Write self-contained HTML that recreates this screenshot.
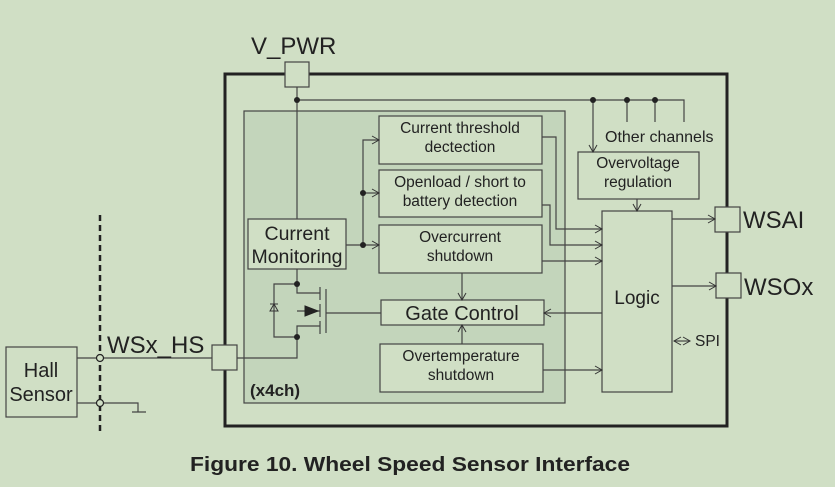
<!DOCTYPE html>
<html><head><style>
html,body{margin:0;padding:0;background:#d0dfc5;}
svg{display:block;font-family:"Liberation Sans",Arial,sans-serif;}
</style></head><body>
<svg width="835" height="487" viewBox="0 0 835 487" xmlns="http://www.w3.org/2000/svg">
<defs>
<marker id="a" markerWidth="10" markerHeight="10" refX="8" refY="5" orient="auto" markerUnits="userSpaceOnUse">
<path d="M1,1 L8,5 L1,9" fill="none" stroke="#333" stroke-width="1"/></marker>
<marker id="as" markerWidth="10" markerHeight="10" refX="2" refY="5" orient="auto" markerUnits="userSpaceOnUse">
<path d="M9,1 L2,5 L9,9" fill="none" stroke="#333" stroke-width="1"/></marker>
</defs>
<rect width="835" height="487" fill="#d0dfc5"/>
<g stroke="#222" fill="none">
<rect x="225" y="74" width="502" height="352" stroke-width="3"/>
</g>
<rect x="244" y="111" width="321" height="292" fill="#c3d5bb" stroke="#444" stroke-width="1.2"/>
<g stroke="#444" stroke-width="1.2" fill="#d0dfc5">
<rect x="285" y="62" width="24" height="25"/>
<rect x="212" y="345" width="25" height="25"/>
<rect x="715" y="207" width="25" height="25"/>
<rect x="716" y="273" width="25" height="25"/>
<rect x="379" y="116" width="163" height="48"/>
<rect x="379" y="170" width="163" height="47"/>
<rect x="379" y="225" width="163" height="48"/>
<rect x="381" y="300" width="163" height="25"/>
<rect x="380" y="344" width="163" height="48"/>
<rect x="248" y="219" width="98" height="50"/>
<rect x="578" y="152" width="121" height="47"/>
<rect x="602" y="211" width="70" height="181"/>
<rect x="6" y="347" width="71" height="70"/>
</g>
<g stroke="#444" stroke-width="1.2" fill="none">
<path d="M297 87V219M297 100H684V122M627 100V122M655 100V122"/>
<path d="M593 100V152" marker-end="url(#a)"/>
<path d="M346 245H379" marker-end="url(#a)"/>
<path d="M363 245V140H379" marker-end="url(#a)"/>
<path d="M363 193H379" marker-end="url(#a)"/>
<path d="M542 137H556V229H602" marker-end="url(#a)"/>
<path d="M542 205H550V245H602" marker-end="url(#a)"/>
<path d="M542 261H602" marker-end="url(#a)"/>
<path d="M543 370H602" marker-end="url(#a)"/>
<path d="M602 313H544" marker-end="url(#a)"/>
<path d="M637 199V211" marker-end="url(#a)"/>
<path d="M462 273V300" marker-end="url(#a)"/>
<path d="M462 344V325" marker-end="url(#a)"/>
<path d="M672 219H715" marker-end="url(#a)"/>
<path d="M672 286H716" marker-end="url(#a)"/>
<path d="M674 341H690" marker-end="url(#a)" marker-start="url(#as)"/>
<path d="M297 269V284M297 284V293H320M297 337V326H320M297 337V358H237"/>
<path d="M320 311H297M297 284H274V337H297"/>
<path d="M381 313H326M326 289V333M320 287V300M320 304V317M320 321V334"/>
<path d="M77 358H212M77 403H138V412M132 412H146"/>
</g>
<path d="M100 215V435" stroke="#222" stroke-width="2.5" stroke-dasharray="6,4"/>
<path d="M305 311L318 311M305 306L318 311L305 316Z" fill="#222" stroke="#222"/>
<path d="M270 311H278L274 304Z M270 304H278" fill="none" stroke="#333"/>
<g fill="#222">
<circle cx="297" cy="100" r="3"/><circle cx="593" cy="100" r="3"/><circle cx="627" cy="100" r="3"/><circle cx="655" cy="100" r="3"/>
<circle cx="363" cy="245" r="3"/><circle cx="363" cy="193" r="3"/>
<circle cx="297" cy="284" r="3"/><circle cx="297" cy="337" r="3"/>
</g>
<circle cx="100" cy="358" r="3.5" fill="#d0dfc5" stroke="#222" stroke-width="1.2"/>
<circle cx="100" cy="403" r="3.5" fill="#d0dfc5" stroke="#222" stroke-width="1.2"/>
<g fill="#222" text-anchor="middle" font-size="15.5">
<text x="460" y="133">Current threshold</text><text x="460" y="152">dectection</text>
<text x="460" y="187">Openload / short to</text><text x="460" y="206">battery detection</text>
<text x="460" y="242">Overcurrent</text><text x="460" y="261">shutdown</text>
<text x="462" y="320" font-size="20">Gate Control</text>
<text x="461" y="361">Overtemperature</text><text x="461" y="380">shutdown</text>
<text x="297" y="240" font-size="19.5">Current</text><text x="297" y="263" font-size="19.5">Monitoring</text>
<text x="638" y="168">Overvoltage</text><text x="638" y="187">regulation</text>
<text x="637" y="304" font-size="19">Logic</text>
<text x="41" y="377" font-size="20">Hall</text><text x="41" y="401" font-size="20">Sensor</text>
</g>
<g fill="#222">
<text x="605" y="142" font-size="16">Other channels</text>
<text x="695" y="346" font-size="15.5">SPI</text>
<text x="743" y="228" font-size="24">WSAI</text>
<text x="744" y="295" font-size="24">WSOx</text>
<text x="107" y="353" font-size="24">WSx_HS</text>
<text x="251" y="54" font-size="24">V_PWR</text>
<text x="250" y="396" font-size="17" font-weight="bold">(x4ch)</text>
<text x="190" y="471" font-size="20" font-weight="bold" textLength="440" lengthAdjust="spacingAndGlyphs">Figure 10.  Wheel Speed Sensor Interface</text>
</g>
</svg>
</body></html>
